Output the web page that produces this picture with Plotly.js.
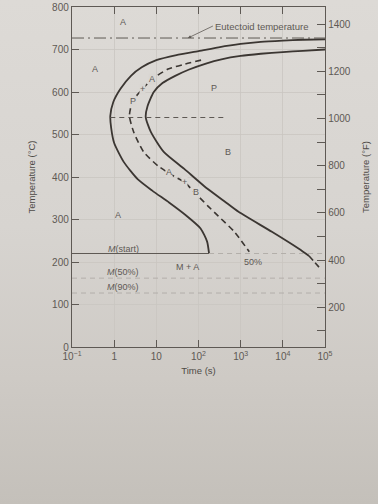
<!DOCTYPE html>
<html>
<head>
<meta charset="utf-8">
<script src="https://cdn.plot.ly/plotly-3.0.1.min.js"></script>
<style>
html,body{margin:0;padding:0;}
body{width:378px;height:504px;background:linear-gradient(180deg,#dddad6 0%,#d7d4d0 45%,#cecac5 75%,#c4c0ba 100%);overflow:hidden;}
#chart{width:378px;height:504px;}
</style>
</head>
<body>
<div id="chart"></div>
<script>
// ---- data (time in s, temperature in °C) ----
const startTime = [100000, 30000, 10000, 3000, 1000, 300, 100, 30, 10, 4.5, 2.5, 1.4, 0.95, 0.81, 0.85, 1.0, 1.7, 3.6, 8, 20, 50, 112, 160, 178];
const startTemp = [724, 723, 721, 718, 713, 705, 696, 687, 675, 658, 638, 607, 576, 544, 515, 480, 435, 395, 368, 340, 310, 279, 248, 220];

const endTime = [100000, 30000, 10000, 3000, 1000, 350, 150, 60, 28, 14, 8.7, 6.2, 5.6, 7.4, 15, 46, 135, 410, 890, 5500, 24000, 42000];
const endTemp = [700, 697, 694, 690, 685, 677, 667, 653, 638, 621, 600, 567, 541, 506, 459, 419, 379, 343, 318, 271, 231, 214];
const endTailTime = [42000, 72000];
const endTailTemp = [214, 188];

const halfTime = [115, 45, 19, 8.1, 4.7, 2.75, 2.3, 2.9, 5.0, 11, 26, 46, 98, 170, 295, 710, 1600];
const halfTemp = [675, 665, 654, 631, 607, 579, 544, 506, 459, 426, 402, 388, 355, 331, 308, 271, 224];

const eutectoidTemp = 727;
const noseLineTime = [0.81, 460];
const noseLineTemp = 540;
const mStart = 220, mStartEndTime = 178;
const m50 = 162, m90 = 127;
const tMin = 0.1, tMax = 100000;

const xTickVals = [0.1, 1, 10, 100, 1000, 10000, 100000];
const xTickText = ['10<sup>−1</sup>', '1', '10', '10<sup>2</sup>', '10<sup>3</sup>', '10<sup>4</sup>', '10<sup>5</sup>'];
const fTickVals = [200, 400, 600, 800, 1000, 1200, 1400];

// region / curve labels: [text, time, temp]
const regionLabels = [
  ['A', 1.66, 764], ['A', 0.35, 654], ['P', 234, 609], ['B', 500, 458], ['A', 1.26, 311],
  ['M + A', 56, 188], ['50%', 2000, 200]
];
const mLabels = [['<i>M</i>(start)', 1.66, 231], ['<i>M</i>(50%)', 1.66, 176], ['<i>M</i>(90%)', 1.66, 141]];
const curveLabels = [['P', 2.75, 579], ['+', 4.7, 607], ['A', 8.1, 631], ['A', 20, 411], ['+', 46, 388], ['B', 87, 364]];

const ink = '#3b3632';
const grey = '#5e5954';
const faint = '#b3afaa';

const traces = [
  {x: [tMin, tMax], y: [eutectoidTemp, eutectoidTemp], mode: 'lines', line: {color: grey, width: 1, dash: '12px,4px,2px,4px'}},
  {x: startTime, y: startTemp, mode: 'lines', line: {color: ink, width: 1.8, shape: 'spline', smoothing: 0.6}},
  {x: endTime, y: endTemp, mode: 'lines', line: {color: ink, width: 1.8, shape: 'spline', smoothing: 0.6}},
  {x: endTailTime, y: endTailTemp, mode: 'lines', line: {color: ink, width: 1.6, dash: '6px,3px'}},
  {x: halfTime, y: halfTemp, mode: 'lines', line: {color: ink, width: 1.6, dash: '6px,4px', shape: 'spline', smoothing: 0.6}},
  {x: noseLineTime, y: [noseLineTemp, noseLineTemp], mode: 'lines', line: {color: grey, width: 1, dash: '5px,4px'}},
  {x: [tMin, mStartEndTime], y: [mStart, mStart], mode: 'lines', line: {color: grey, width: 1.2}},
  {x: [mStartEndTime, tMax], y: [mStart, mStart], mode: 'lines', line: {color: faint, width: 1, dash: '5px,4px'}},
  {x: [tMin, tMax], y: [m50, m50], mode: 'lines', line: {color: faint, width: 1, dash: '5px,4px'}},
  {x: [tMin, tMax], y: [m90, m90], mode: 'lines', line: {color: faint, width: 1, dash: '5px,4px'}},
  {x: [tMin, tMax], y: [32, 32], yaxis: 'y2', mode: 'lines', line: {width: 0}, hoverinfo: 'skip'}
];

const annotations = [];
regionLabels.forEach(l => annotations.push({x: Math.log10(l[1]), y: l[2], text: l[0], showarrow: false, font: {size: 9, color: grey}}));
mLabels.forEach(l => annotations.push({x: Math.log10(l[1]), y: l[2], text: l[0], showarrow: false, font: {size: 9, color: grey}}));
curveLabels.forEach(l => annotations.push({x: Math.log10(l[1]), y: l[2], text: l[0], showarrow: false, bgcolor: '#d9d6d2', borderpad: 0, font: {size: 9, color: grey}}));
annotations.push({x: Math.log10(56), y: eutectoidTemp, text: 'Eutectoid temperature', showarrow: true, arrowhead: 2, arrowsize: 0.8, arrowwidth: 0.8, arrowcolor: grey, ax: 25, ay: -12, xanchor: 'left', font: {size: 9.5, color: grey}});

const layout = {
  width: 378, height: 504,
  margin: {l: 72, r: 53, t: 7, b: 157},
  paper_bgcolor: 'rgba(0,0,0,0)', plot_bgcolor: 'rgba(0,0,0,0)',
  showlegend: false,
  font: {family: 'Liberation Sans, Arial, sans-serif', color: grey, size: 10},
  xaxis: {
    type: 'log', range: [-1, 5], tickvals: xTickVals, ticktext: xTickText,
    ticks: 'inside', ticklen: 7, tickcolor: grey, showline: true, linecolor: grey, linewidth: 1.2, mirror: 'ticks',
    showgrid: true, gridcolor: '#c9c5c0', gridwidth: 0.8, zeroline: false,
    tickfont: {size: 10, color: grey},
    title: {text: 'Time (s)', font: {size: 9.5, color: '#4e4a46'}, standoff: 6}
  },
  yaxis: {
    range: [0, 800], dtick: 100, ticks: 'inside', ticklen: 7, tickcolor: grey,
    showline: true, linecolor: grey, linewidth: 1.2, showgrid: true, gridcolor: '#c9c5c0', gridwidth: 0.8, zeroline: false,
    tickfont: {size: 10, color: grey},
    title: {text: 'Temperature (°C)', font: {size: 9.5, color: '#4e4a46'}, standoff: 14}
  },
  yaxis2: {
    overlaying: 'y', side: 'right', range: [32, 1472], tickvals: fTickVals,
    ticks: 'inside', ticklen: 8, tickcolor: grey, showline: true, linecolor: grey, linewidth: 1.2,
    minor: {dtick: 100, ticks: 'inside', ticklen: 8, tickcolor: grey, showgrid: false},
    showgrid: false, zeroline: false, tickfont: {size: 10, color: grey},
    title: {text: 'Temperature (°F)', font: {size: 9.5, color: '#4e4a46'}, standoff: 12}
  },
  annotations: annotations
};

Plotly.newPlot('chart', traces, layout, {displayModeBar: false, staticPlot: true});
</script>
</body>
</html>
